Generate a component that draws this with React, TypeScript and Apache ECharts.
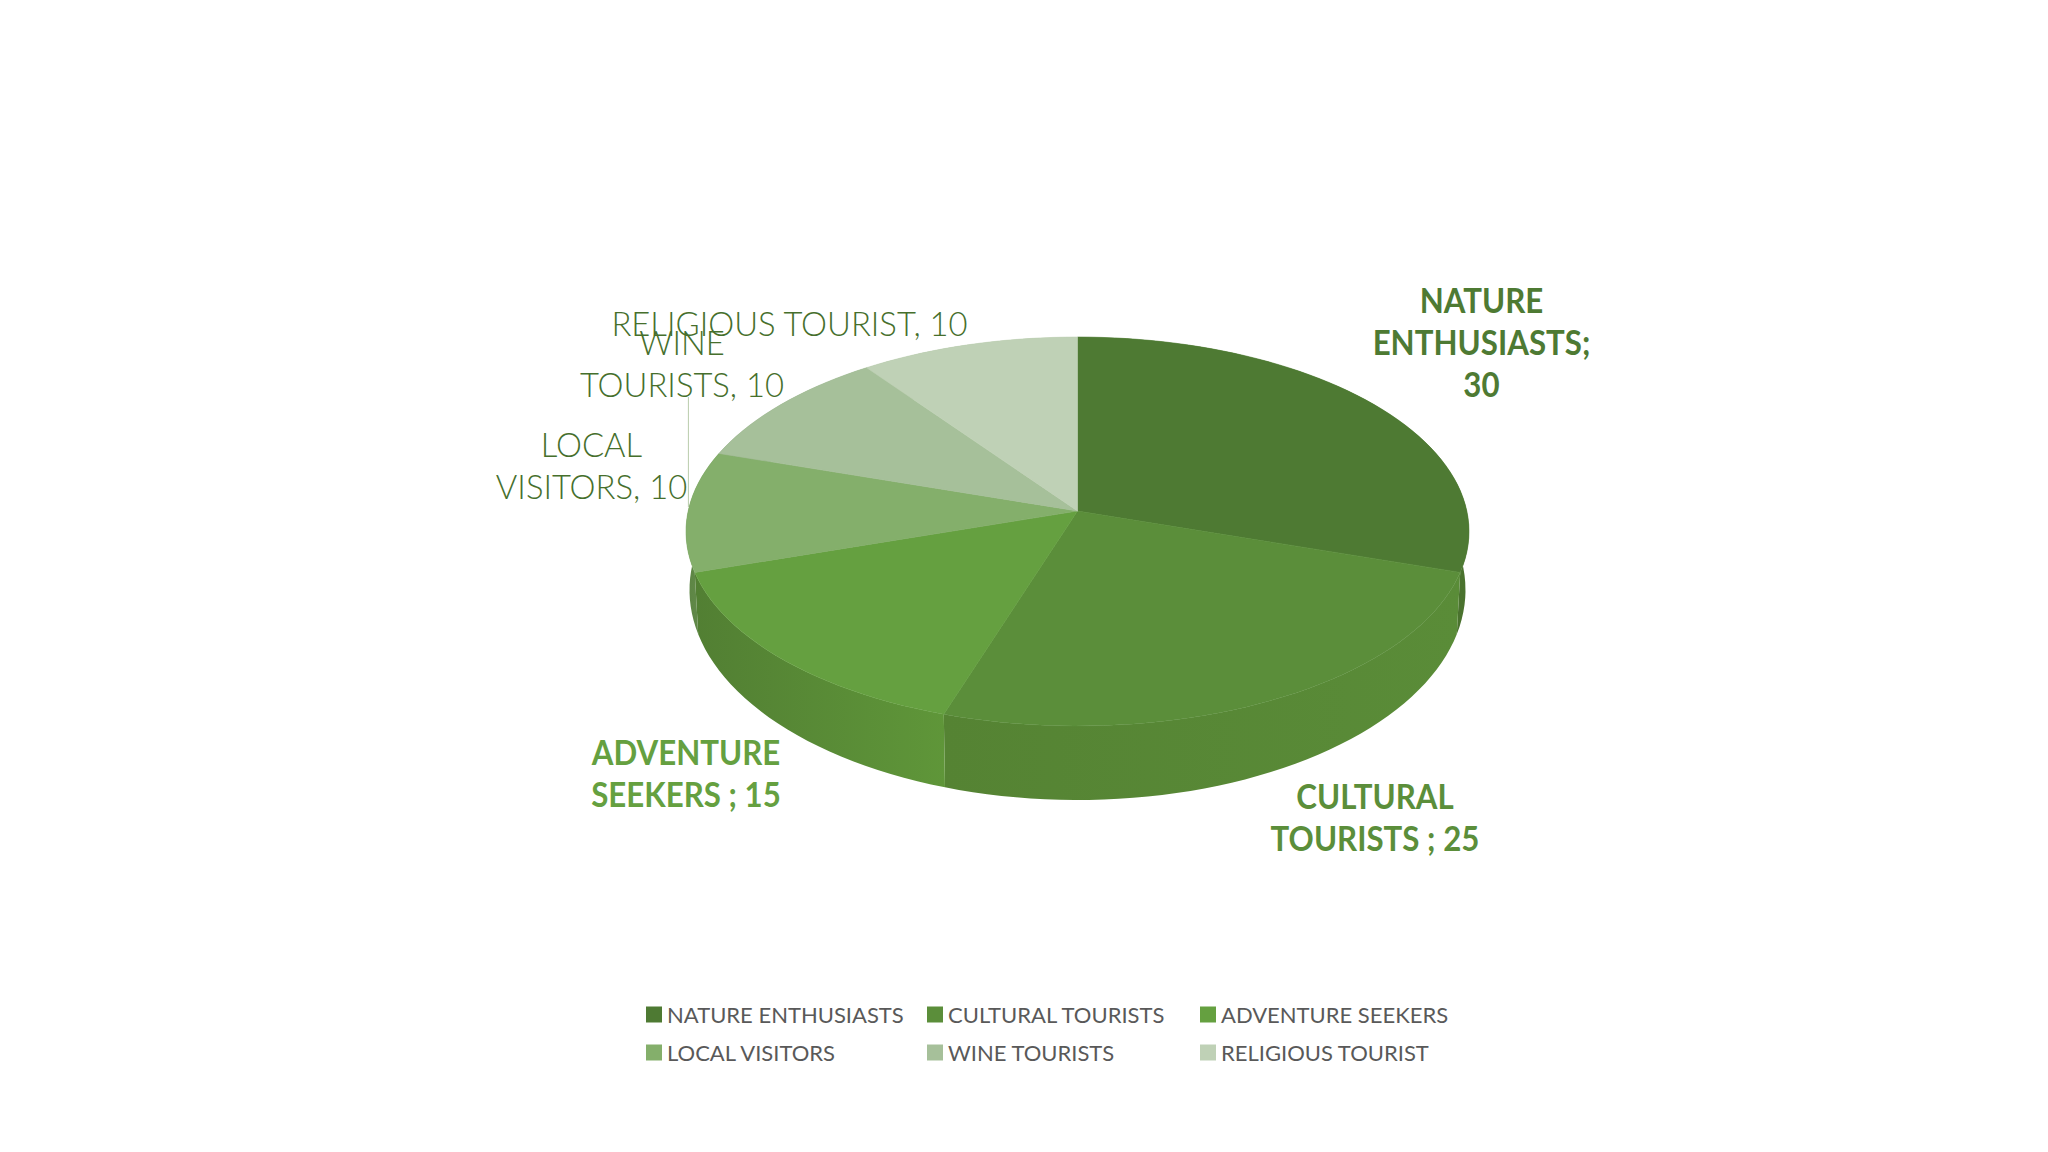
import React, { useEffect, useRef } from "react";
import * as echarts from "echarts";

const categories = ["NATURE ENTHUSIASTS", "CULTURAL TOURISTS", "ADVENTURE SEEKERS", "LOCAL VISITORS", "WINE TOURISTS", "RELIGIOUS TOURIST"];
const values = [30, 25, 15, 10, 10, 10];
const labelNames = ["NATURE\nENTHUSIASTS;\n", "CULTURAL\nTOURISTS ; ", "ADVENTURE\nSEEKERS ; ", "LOCAL\nVISITORS, ", "WINE\nTOURISTS, ", "RELIGIOUS TOURIST, "];

const topColors = ["#4E7A33", "#5B8E3A", "#65A040", "#84AF6B", "#A6C09A", "#BFD1B6"];
const wallStops = [
  ["#4F7B31", "#4A722E"],
  ["#558333", "#5A8C38"],
  ["#527F33", "#5F9639"],
  ["#5C8443", "#6B9355"],
  ["#7F9B72", "#8CA880"],
  ["#9BB090", "#A8BC9E"],
];
const labelColors = ["#4E7A33", "#5B8E3A", "#65A040", "#466F2C", "#466F2C", "#466F2C"];
const labelBold = [true, true, true, false, false, false];
const labelAt = [[1481.5, 342], [1375, 817], [686, 773], [591.5, 465], [682, 362.5], [789.5, 323]];

const CX = 1077.5;
const TOP_RIM = { apex: 511, R: 389.3, a: 192.3, midY: 531, halfW: 391.5 };
const BOTTOM_RIM = { midY: 590, rx: 388, ry: 210 };
const C = -0.1054;
const STEPS_PER_DEG = 0.5;

const total = values.reduce((s, v) => s + v, 0);
const startAngle = (i: number) => (values.slice(0, i).reduce((s, v) => s + v, 0) / total) * 360;

function topPoint(deg: number) {
  const t = (deg * Math.PI) / 180;
  const X = Math.sin(t);
  const Y = -Math.cos(t);
  const d = 1 + C * Y;
  return [CX + (TOP_RIM.R * X) / d, TOP_RIM.apex + (TOP_RIM.a * Y) / d];
}

function bottomPoint(deg: number) {
  const [x, y] = topPoint(deg);
  const dx = ((x - CX) * BOTTOM_RIM.rx) / TOP_RIM.halfW;
  const s = Math.sqrt(Math.max(0, 1 - (dx / BOTTOM_RIM.rx) ** 2));
  const sign = y >= TOP_RIM.midY ? 1 : -1;
  return [CX + dx, BOTTOM_RIM.midY + sign * BOTTOM_RIM.ry * s];
}

function arc(i: number, fn: (deg: number) => number[]) {
  const a0 = startAngle(i);
  const a1 = startAngle(i + 1);
  const n = Math.max(4, Math.ceil((a1 - a0) * STEPS_PER_DEG));
  const pts: number[][] = [];
  for (let k = 0; k <= n; k++) pts.push(fn(a0 + ((a1 - a0) * k) / n));
  return pts;
}

const font = (i: number) => (labelBold[i] ? "bold 34px Lato" : "300 34px Lato");
const labelScaleX = (i: number) => (labelBold[i] ? 0.92 : 0.965);

export default function App() {
  const ref = useRef<HTMLDivElement>(null);
  useEffect(() => {
    const chart = echarts.init(ref.current!, undefined, { renderer: "svg" });
    const wallSeries = {
      type: "custom",
      name: "wall",
      coordinateSystem: "none",
      silent: true,
      z: 1,
      data: values.map((v) => [v]),
      renderItem: (params: any) => {
        const i = params.dataIndex;
        const points = arc(i, topPoint).concat(arc(i, bottomPoint).reverse());
        const fill = new echarts.graphic.LinearGradient(0, 0, 1, 0, [
          { offset: 0, color: wallStops[i][0] },
          { offset: 1, color: wallStops[i][1] },
        ]);
        return { type: "polygon", shape: { points }, style: { fill } };
      },
    };
    const topSeries = categories.map((name, i) => ({
      type: "custom",
      name,
      coordinateSystem: "none",
      silent: true,
      z: 2,
      itemStyle: { color: topColors[i] },
      data: [[values[i]]],
      renderItem: (_p: any, api: any) => {
        const points = [[CX, TOP_RIM.apex], ...arc(i, topPoint)];
        return {
          type: "group",
          children: [
            { type: "polygon", shape: { points }, style: { fill: topColors[i], stroke: topColors[i], lineWidth: 0.6 } },
            {
              type: "text",
              z2: 10,
              x: labelAt[i][0],
              y: labelAt[i][1],
              scaleX: labelScaleX(i),
              style: {
                text: labelNames[i] + api.value(0),
                x: 0,
                y: 0,
                fill: labelColors[i],
                font: font(i),
                align: "center",
                verticalAlign: "middle",
                lineHeight: 41.7,
              },
            },
          ],
        };
      },
    }));
    const legendLeft = [646, 927, 1200];
    chart.setOption({
      animation: false,
      backgroundColor: "#ffffff",
      legend: legendLeft.map((left, col) => ({
        orient: "vertical",
        left,
        top: 1001,
        padding: 0,
        itemWidth: 16,
        itemHeight: 16,
        itemGap: 11,
        selectedMode: false,
        icon: "rect",
        data: [categories[col], categories[col + 3]],
        textStyle: { color: "#595959", fontFamily: "Lato", fontSize: 22, padding: [0, 0, 0, 0], height: 27, lineHeight: 27 },
      })),
      series: [wallSeries, ...topSeries],
      graphic: [
        {
          type: "line",
          z: 3,
          shape: { x1: 688.4, y1: 397, x2: 688.4, y2: 507 },
          style: { stroke: "#B9CCAC", lineWidth: 1 },
        },
      ],
    });
    return () => chart.dispose();
  }, []);
  return <div ref={ref} style={{ position: "fixed", left: 0, top: 0, width: 2048, height: 1152 }} />;
}
